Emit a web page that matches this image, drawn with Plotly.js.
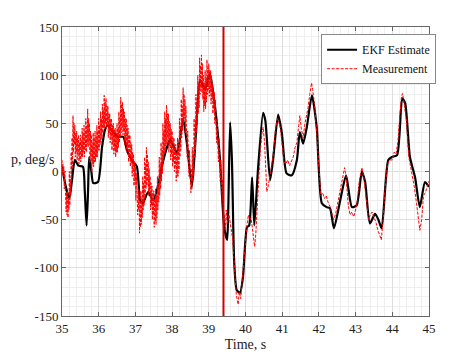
<!DOCTYPE html>
<html><head><meta charset="utf-8">
<script src="https://cdn.plot.ly/plotly-3.0.1.min.js"></script>
<style>html,body{margin:0;padding:0;background:#fff}#chart{width:474px;height:355px}</style>
</head><body><div id="chart"></div>
<script>
// EKF estimate (smooth black curve) key samples
const ekfTime = [35.0,35.1,35.2,35.27,35.35,35.45,35.57,35.62,35.67,35.71,35.74,35.8,35.85,35.98,36.09,36.17,36.25,36.39,36.53,36.67,36.77,36.9,37.04,37.13,37.2,37.35,37.48,37.59,37.75,37.86,37.94,38.05,38.13,38.2,38.3,38.4,38.54,38.65,38.76,38.9,39.03,39.17,39.3,39.42,39.5,39.53,39.58,39.63,39.69,39.76,39.85,39.93,40.04,40.1,40.18,40.24,40.34,40.48,40.54,40.67,40.75,40.89,40.99,41.12,41.26,41.4,41.48,41.57,41.67,41.81,41.94,42.08,42.21,42.3,42.41,42.58,42.74,42.9,43.03,43.17,43.26,43.39,43.53,43.62,43.71,43.89,43.99,44.13,44.27,44.35,44.48,44.62,44.75,44.89,45.0];
const ekfValue = [5,-15,-28,-10,12,6,5,-20,-56,-20,15,0,-12,-11,25,43,48,41,36,36,22,12,5,-30,-33,-21,-30,-19,10,25,33,25,19,30,55,30,-16,40,95,85,102,67,15,-58,-71,-40,51,12,-92,-123,-126,-110,-58,-56,-6,-56,2,61,53,-9,12,59,40,-2,-4,12,41,29,46,79,46,-33,-37,-38,-59,-30,-4,-37,-35,0,-11,-54,-44,-50,-59,12,15,17,76,71,15,-6,-37,-11,-16];

// Measurement, noisy segment sampled every 0.0125 s from 35.0 to 39.4
const measNoisyStart = 35.0;
const measNoisyStep = 0.0125;
const measNoisy = [
 12,-3,8,-5, 5,-18,0,-20, -15,-42,-22,-45, -20,-48,-28,-40,
 0,-35,-8,-25, 20,-10,35,5, 58,20,50,28, 48,15,40,20,
 42,12,35,18, 38,8,30,12, 38,10,32,15, 45,15,40,20,
 48,15,42,22, 55,20,48,28, 65,25,55,30, 50,10,42,15,
 38,0,30,8, 40,5,35,10, 42,10,36,15, 48,15,42,22,
 55,22,48,28, 62,30,55,35, 70,40,64,45, 79,45,72,50,
 76,45,68,50, 68,35,60,40, 60,30,54,35, 55,22,48,28,
 50,18,44,22, 45,15,40,20, 50,20,45,25, 62,30,56,36,
 77,40,70,45, 72,38,65,42, 62,28,55,33, 55,20,48,25,
 45,10,38,15, 38,5,30,8, 28,-5,20,0, 18,-15,10,-10,
 5,-30,-2,-25, -10,-45,-18,-40, -25,-64,-32,-58, -20,-55,-28,-48,
 -5,-40,-12,-35, 15,-25,8,-18, 25,-15,18,-10, 10,-25,3,-20,
 -5,-40,-12,-35, -15,-50,-22,-45, -20,-58,-28,-52, -18,-55,-25,-48,
 -5,-40,-12,-32, 15,-25,8,-18, 30,-10,22,-2, 50,10,42,18,
 62,20,55,28, 69,28,60,35, 60,20,52,26, 50,12,44,18,
 42,5,35,10, 35,0,28,5, 28,-10,20,-5, 35,-5,28,2,
 55,15,48,22, 75,35,68,42, 87,50,80,55, 75,40,68,45,
 50,15,42,20, 30,-5,22,0, 10,-22,3,-18, 25,-10,18,-5,
 55,15,48,22, 80,40,72,48, 100,60,92,66, 118,80,110,86,
 121,82,112,75, 100,62,92,68, 105,65,98,72, 116,80,108,85,
 112,78,105,82, 105,70,98,75, 92,60,86,65, 82,50,75,55,
 62,30,55,35, 42,10,35,15, 20,-10,12,-5, 0,-30,-8,-25,
 -45];

// Measurement after 39.4 s
const measTime = [39.425,39.45,39.475,39.5,39.55,39.6,39.65,39.7,39.75,39.8,39.83,39.87,39.9,39.95,40.0,40.04,40.08,40.12,40.15,40.2,40.25,40.28,40.34,40.4,40.45,40.48,40.52,40.58,40.62,40.67,40.75,40.82,40.88,40.95,41.0,41.05,41.1,41.15,41.2,41.25,41.3,41.35,41.4,41.45,41.48,41.52,41.57,41.62,41.7,41.75,41.8,41.83,41.88,41.94,42.0,42.05,42.1,42.15,42.2,42.25,42.3,42.35,42.4,42.45,42.5,42.58,42.65,42.7,42.74,42.8,42.85,42.9,42.95,43.0,43.05,43.1,43.17,43.22,43.28,43.35,43.4,43.45,43.5,43.55,43.6,43.65,43.7,43.75,43.8,43.87,43.93,44.0,44.05,44.1,44.15,44.2,44.25,44.28,44.32,44.38,44.45,44.5,44.55,44.6,44.65,44.7,44.75,44.8,44.85,44.9,44.95,45.0];
const measValue = [-45,-60,-40,-55,-45,-60,-70,-100,-128,-138,-125,-132,-118,-100,-75,-55,-45,-50,-48,-62,-78,-65,-20,20,40,46,30,-21,-15,-5,15,45,55,45,25,10,8,12,6,10,15,25,30,48,58,45,35,50,65,80,92,85,70,40,0,-25,-22,-28,-25,-32,-36,-42,-50,-45,-35,-20,-5,4,-5,-35,-45,-42,-47,-40,-30,-10,4,-5,-25,-50,-45,-42,-48,-52,-60,-65,-71,-50,-20,8,12,12,20,18,30,55,78,81,70,55,15,5,-5,-16,-30,-45,-61,-50,-25,-22,-15,-10];

const eventTime = 39.4;
const yTickVals = [-150,-100,-50,0,50,100,150];
const yTickText = ['-150','-100','-50','0','50','100','150'];
const xTickVals = [35,36,37,38,39,40,41,42,43,44,45];

const mx = measNoisy.map((v,i)=>+(measNoisyStart + i*measNoisyStep).toFixed(4)).concat(measTime);
const my = measNoisy.concat(measValue);

const FONT = '"Liberation Serif", "Times New Roman", serif';
const traces = [
 {x: ekfTime, y: ekfValue, type:'scatter', mode:'lines', name:'EKF Estimate',
  line:{color:'#000000', width:2.2, shape:'spline', smoothing:0.6}},
 {x: mx, y: my, type:'scatter', mode:'lines', name:'Measurement',
  line:{color:'#ff0000', width:1, dash:'3px,1.5px'}}
];
const axisCommon = {
  showline:true, linecolor:'#666', linewidth:1, mirror:'ticks',
  ticks:'inside', ticklen:4, tickcolor:'#666', zeroline:false,
  showgrid:true, gridcolor:'#dedede', gridwidth:1,
  tickfont:{family:FONT, size:13, color:'#222'}
};
const layout = {
  width:474, height:355,
  margin:{l:62, r:45, t:27, b:39},
  paper_bgcolor:'#ffffff', plot_bgcolor:'#ffffff',
  font:{family:FONT, color:'#222'},
  showlegend:true,
  legend:{x:0.706, y:0.975, xanchor:'left', yanchor:'top',
    bgcolor:'#ffffff', bordercolor:'#888', borderwidth:1,
    font:{family:FONT, size:12, color:'#111'}, itemwidth:30, tracegroupgap:0},
  xaxis:Object.assign({}, axisCommon, {range:[35,45], tickvals:xTickVals,
    minor:{dtick:0.2, showgrid:true, gridcolor:'#efefef', ticks:''},
    title:{text:'Time, s', font:{family:FONT, size:14, color:'#222'}, standoff:4}}),
  yaxis:Object.assign({}, axisCommon, {range:[-150,150], tickvals:yTickVals, ticktext:yTickText,
    minor:{dtick:10, showgrid:true, gridcolor:'#efefef', ticks:''}}),
  shapes:[{type:'line', xref:'x', yref:'paper', x0:eventTime, x1:eventTime, y0:0, y1:1,
    line:{color:'#d40000', width:2}}],
  annotations:[{text:'p, deg/s', xref:'paper', yref:'paper', x:-0.014, y:0.54,
    xanchor:'right', yanchor:'middle', showarrow:false,
    font:{family:FONT, size:14, color:'#222'}}]
};
Plotly.newPlot('chart', traces, layout, {displayModeBar:false, staticPlot:true});
</script>
</body></html>
